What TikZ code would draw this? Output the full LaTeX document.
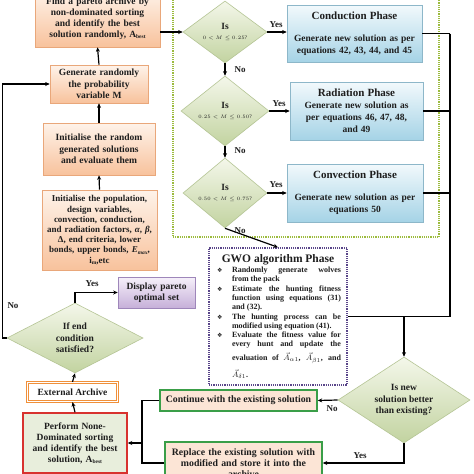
\documentclass[tikz,border=0pt]{standalone}
\usepackage{fontspec}
\setmainfont{Liberation Serif}
\newfontfamily\symfont{DejaVu Sans}
\usetikzlibrary{shapes.geometric,arrows.meta,shadows}
\definecolor{orT}{HTML}{FEF3EA}
\definecolor{orB}{HTML}{F8C29C}
\definecolor{orD}{HTML}{E9A77A}
\definecolor{grT}{HTML}{F4F7EA}
\definecolor{grB}{HTML}{C2D3A0}
\definecolor{grD}{HTML}{B5C595}
\definecolor{blT}{HTML}{F2F9FC}
\definecolor{blB}{HTML}{A5D3E6}
\definecolor{blD}{HTML}{8DB7C9}
\definecolor{puT}{HTML}{F6F0FA}
\definecolor{puB}{HTML}{C6B0D9}
\definecolor{puD}{HTML}{9E86BA}
\definecolor{greenB}{HTML}{3A9E48}
\definecolor{peach}{HTML}{FCE5D6}
\definecolor{redB}{HTML}{D8322F}
\definecolor{lgreen}{HTML}{E8EEDC}
\definecolor{archOr}{HTML}{F0903A}
\definecolor{dotG}{HTML}{9CBB3E}
\definecolor{dotP}{HTML}{5A468A}
\definecolor{txt}{HTML}{1E1E1E}
\newcommand\myfs[2]{\fontsize{#1}{#2}\selectfont\bfseries}
\newcommand\lowsub[1]{\raisebox{-0.35ex}{\fontsize{5.5}{6}\selectfont #1}}
\newcommand\gitem[1]{\par\noindent\hangindent=17pt\hangafter=1\hbox to 17pt{\hskip2pt{\symfont\fontsize{6}{6}\selectfont ❖}\hfil}#1\par}
\begin{document}
\begin{tikzpicture}[x=1pt,y=-1pt,
  every node/.style={text=txt},
  arr/.style={-{Stealth[length=4.5pt,width=4pt]}, line width=1.2pt},
  conn/.style={line width=1.2pt},
  shad/.style={drop shadow={opacity=0.22, shadow xshift=1.2pt, shadow yshift=-1.2pt}},
  obox/.style={shad, draw=orD, line width=0.6pt, top color=orT, bottom color=orB, inner sep=0pt, align=center, font=\myfs{9.5}{11}},
  bbox/.style={shad, draw=blD, line width=0.6pt, top color=blT, bottom color=blB, inner sep=0pt, align=center, font=\myfs{9.5}{12}},
  pbox/.style={shad, draw=puD, line width=0.6pt, top color=puT, bottom color=puB, inner sep=0pt, align=center, font=\myfs{9.5}{11}},
  gbox/.style={draw=greenB, line width=1.5pt, fill=peach, inner sep=0pt, align=center, font=\myfs{9.8}{11}},
  rbox/.style={draw=redB, line width=1.5pt, fill=lgreen, inner sep=0pt, align=center, font=\myfs{9.5}{11}},
  abox/.style={draw=archOr, line width=1.3pt, double=white, double distance=1.3pt, fill=white, inner sep=0pt, align=center, font=\myfs{9.5}{11}},
  dia/.style={shape=diamond, draw=grD, line width=0.6pt, top color=grT, bottom color=grB, inner sep=0pt, align=center, font=\myfs{9.5}{11.5}},
  lab/.style={font=\myfs{9}{10}, inner sep=0pt},
  gframe/.style={draw=dotG, line width=1.4pt, dash pattern=on 1.2pt off 1pt},
  gwobox/.style={draw=dotP, line width=1.4pt, dash pattern=on 1.2pt off 1pt, fill=white, inner sep=0pt, text width=126pt, align=justify, font=\myfs{8}{9.3}}
]
\useasboundingbox (0,0) rectangle (474,474);
\clip (0,0) rectangle (474,474);
\fill[white] (0,0) rectangle (474,474);

% green dotted frame
\node[gframe, minimum width=266pt, minimum height=242pt] (frame) at (306,116) {};

% left column
\node[obox, minimum width=125pt, minimum height=57pt, text width=123pt] (find) at (97.5,18.5)
  {Find a pareto archive by\\non-dominated sorting\\and identify the best\\solution randomly, A\lowsub{best}};
\node[obox, minimum width=98pt, minimum height=38pt, text width=96pt, font=\myfs{9.5}{11.5}] (gen) at (99,84)
  {Generate randomly\\the probability\\variable M};
\node[obox, minimum width=112pt, minimum height=52pt, text width=110pt, font=\myfs{9.5}{11.3}] (initrand) at (99,149)
  {Initialise the random\\generated solutions\\and evaluate them};
\node[obox, minimum width=115pt, minimum height=80pt, text width=113pt, font=\myfs{9}{10.2}] (initpop) at (99.5,230)
  {Initialise the population,\\design variables,\\convection, conduction,\\and radiation factors, \textit{α}, \textit{β},\\Δ, end criteria, lower\\bonds, upper bonds, \textit{E}\lowsub{\textit{max}},\\i\lowsub{m},etc};

\node[dia, minimum width=136pt, minimum height=70pt, aspect=1.94] (ifend) at (75,338)
  {If end\\condition\\satisfied?};
\node[pbox, minimum width=77pt, minimum height=31pt, text width=75pt] (disp) at (156.5,292.5)
  {Display pareto\\optimal set};
\node[abox, minimum width=90pt, minimum height=19pt] (ext) at (72.5,392) {External Archive};
\node[rbox, minimum width=104pt, minimum height=60pt, text width=102pt] (perf) at (75,443)
  {Perform None-\\Dominated sorting\\and identify the best\\solution, A\lowsub{best}};

% decision diamonds
\node[dia, minimum width=84pt, minimum height=62pt, aspect=1.35] (d1) at (225,32)
  {Is\\[-1pt]{\fontsize{5.5}{6}\selectfont\mdseries $0<M\leq 0.25$?}};
\node[dia, minimum width=88pt, minimum height=70pt, aspect=1.26] (d2) at (225,111)
  {Is\\[-1pt]{\fontsize{5.5}{6}\selectfont\mdseries $0.25<M\leq 0.50$?}};
\node[dia, minimum width=84pt, minimum height=70pt, aspect=1.2] (d3) at (225,193)
  {Is\\[-1pt]{\fontsize{5.5}{6}\selectfont\mdseries $0.50<M\leq 0.75$?}};

% phase boxes
\node[bbox, minimum width=135pt, minimum height=57pt, text width=133pt] (cond) at (354.5,33.5)
  {{\myfs{11}{13}Conduction Phase}\\[10pt]Generate new solution as per\\equations 42, 43, 44, and 45};
\node[bbox, minimum width=133pt, minimum height=58pt, text width=131pt] (rad) at (356.5,111)
  {{\myfs{11}{13}Radiation Phase}\\Generate new solution as\\per equations 46, 47, 48,\\and 49};
\node[bbox, minimum width=136pt, minimum height=58pt, text width=134pt] (conv) at (355,193)
  {{\myfs{11}{13}Convection Phase}\\[10pt]Generate new solution as per\\equations 50};

% GWO
\node[gwobox, minimum width=138pt, minimum height=137pt] (gwo) at (278,316.5) {%
{\centering\myfs{11.5}{13}GWO algorithm Phase\par}\vspace{1pt}%
\gitem{Randomly generate wolves\linebreak from the pack}%
\gitem{Estimate the hunting fitness\linebreak function using equations (31)\linebreak and (32).}%
\gitem{The hunting process can be\linebreak modified using equation (41).}%
\gitem{Evaluate the fitness value for\linebreak every hunt and update the\linebreak \rule{0pt}{11pt}evaluation of {\mdseries$\vec{A}_{\alpha 1}$}, {\mdseries$\vec{A}_{\beta 1}$}, and\linebreak \rule{0pt}{13pt}{\mdseries$\vec{A}_{\delta 1}$}.}%
};

\node[dia, minimum width=132pt, minimum height=86pt, aspect=1.53] (isnew) at (404,400)
  {Is new\\solution better\\than existing?};
\node[gbox, minimum width=157pt, minimum height=21pt] (cont) at (238.5,400.5)
  {Continue with the existing solution};
\node[gbox, minimum width=157pt, minimum height=42pt, text width=155pt] (repl) at (243.5,463)
  {Replace the existing solution with\\modified and store it into the\\archive};

% coordinates
\coordinate (bb) at (450,316.5);
\coordinate (m1) at (142,400.5);
\coordinate (m2) at (142,463);
\coordinate (m3) at (142,443);

% connectors left column
\draw[arr] (initpop.north) -- (initrand.south);
\draw[arr] (initrand.north) -- (gen.south);
\draw[arr] (gen.north) -- (find.south);
\draw[arr] (find.east |- d1.west) -- (d1.west);
\draw[arr] (ifend.north) |- (disp.west);
\node[lab] (yes0) at (92,284) {Yes};
\draw[arr] (ifend.west) -- ++(-4,0) |- (gen.west);
\node[lab] (no0) at (13,306) {No};
\draw[arr] (ext.north) -- (ifend.south);
\draw[arr] (perf.north) -- (ext.south);

% diamonds chain
\draw[arr] (d1.south) -- (d2.north);
\node[lab] (no1) at (240,70) {No};
\draw[arr] (d2.south) -- (d3.north);
\node[lab] (no2) at (240,151) {No};
\draw[arr] (d3.south) -- (gwo.north);
\node[lab] (no3) at (240,231) {No};
\draw[arr] (d1.east) -- (d1.east -| cond.west);
\node[lab] (yes1) at (276,25) {Yes};
\draw[arr] (d2.east) -- (d2.east -| rad.west);
\node[lab] (yes2) at (279,104) {Yes};
\draw[arr] (d3.east) -- (d3.east -| conv.west);
\node[lab] (yes3) at (276,185) {Yes};

% bus on right
\draw[conn] (cond.east) -- (cond.east -| bb);
\draw[conn] (rad.east) -- (rad.east -| bb);
\draw[conn] (conv.east) -- (conv.east -| bb);
\draw[conn] (cond.east -| bb) -- (bb);
\draw[conn] (gwo.east) -- (bb);
\draw[arr] (gwo.east -| isnew.north) -- (isnew.north);

% bottom
\draw[arr] (isnew.west) -- (cont.east);
\node[lab] (no4) at (332,409) {No};
\draw[arr] (isnew.south) |- (repl.east);
\node[lab] (yes4) at (360,456) {Yes};
\draw[conn] (cont.west) -- (m1) -- (m2) -- (repl.west);
\draw[arr] (m3) -- (perf.east);
\end{tikzpicture}
\end{document}
